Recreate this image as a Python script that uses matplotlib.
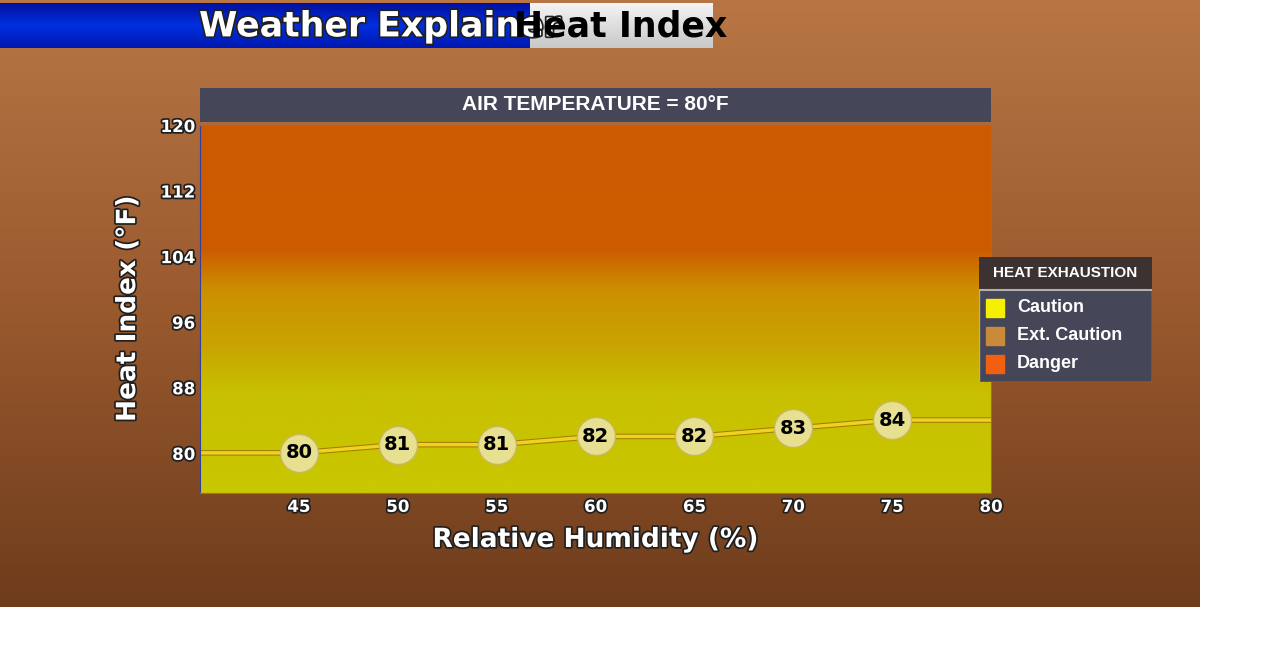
import matplotlib
matplotlib.use("Agg")
import matplotlib.pyplot as plt
import numpy as np
from matplotlib.colors import LinearSegmentedColormap
from matplotlib.patches import Rectangle
import matplotlib.patheffects as pe

humidity = [40, 45, 50, 55, 60, 65, 70, 75, 80]
heat_index = [80, 80, 81, 81, 82, 82, 83, 84, 84]
labeled = [45, 50, 55, 60, 65, 70, 75]
yticks = [80, 88, 96, 104, 112, 120]
xticks = [45, 50, 55, 60, 65, 70, 75, 80]
legend_items = [("Caution", "#f5f000"), ("Ext. Caution", "#c98a3a"), ("Danger", "#f06010")]

W, H = 1280, 672
fig = plt.figure(figsize=(12.8, 6.72), dpi=100)
fig.patch.set_facecolor("white")
outline = [pe.withStroke(linewidth=2.5, foreground="#202020")]
narrow = ["Liberation Sans Narrow", "DejaVu Sans"]

def fx(px): return px / W
def fy(py): return 1 - py / H

bg = fig.add_axes([0, fy(607), fx(1200), 607 / H])
bg.axis("off")
bgc = LinearSegmentedColormap.from_list("bg", ["#b87645", "#9a5a2e", "#6e3c1c"])
bg.imshow(np.linspace(0, 1, 256).reshape(-1, 1), cmap=bgc, aspect="auto", extent=[0, 1, 0, 1])
bg.set_xlim(0, 1); bg.set_ylim(0, 1)

tb = fig.add_axes([0, fy(48), fx(713), 45 / H]); tb.axis("off")
blue = LinearSegmentedColormap.from_list("bl", ["#0010a0", "#0030e0", "#0018b0"])
tb.imshow(np.linspace(0, 1, 64).reshape(-1, 1), cmap=blue, aspect="auto", extent=[0, 530, 0, 1])
grey = LinearSegmentedColormap.from_list("gr", ["#f4f4f4", "#c8c8c8"])
tb.imshow(np.linspace(0, 1, 64).reshape(-1, 1), cmap=grey, aspect="auto", extent=[530, 713, 0, 1])
tb.set_xlim(0, 713); tb.set_ylim(0, 1)
tb.text(380, 0.48, "Weather Explainer", color="white", fontsize=25, fontweight="bold", ha="center", va="center",
        family=narrow, path_effects=outline)
tb.text(621, 0.48, "Heat Index", color="black", fontsize=25, fontweight="bold", ha="center", va="center", family=narrow)

hb = fig.add_axes([fx(200), fy(122), fx(791), 34 / H]); hb.axis("off")
hb.add_patch(Rectangle((0, 0), 1, 1, color="#454658", transform=hb.transAxes))
hb.text(0.5, 0.5, "AIR TEMPERATURE = 80°F", color="white", fontsize=15, fontweight="bold", ha="center", va="center",
        transform=hb.transAxes, family=["Liberation Sans", "DejaVu Sans"])

ax = fig.add_axes([fx(200), fy(493), fx(791), 368 / H])
ymin, ymax = 75.1, 120
grad = LinearSegmentedColormap.from_list("hi", [(0, "#c8c800"), (0.27, "#c8c000"), (0.4, "#c9a400"), (0.55, "#cc9000"), (0.66, "#cc5c00"), (1, "#cc5a00")])
ax.imshow(np.linspace(0, 1, 256).reshape(-1, 1), cmap=grad, origin="lower", aspect="auto",
          extent=[40, 80, ymin, ymax], zorder=0)
ax.set_xlim(40, 80); ax.set_ylim(ymin, ymax)
ax.plot(humidity, heat_index, color="#f0d020", lw=2.5, zorder=2,
        path_effects=[pe.withStroke(linewidth=4, foreground="#a08000")])
for h, v in zip(humidity, heat_index):
    if h in labeled:
        ax.scatter([h], [v], s=750, color="#e6e090", edgecolor="#c8b860", zorder=3)
        ax.text(h, v, str(v), fontsize=14, fontweight="bold", ha="center", va="center", zorder=4)
ax.set_yticks(yticks); ax.set_xticks(xticks)
ax.tick_params(colors="white", labelsize=12, length=0)
for lab in ax.get_xticklabels() + ax.get_yticklabels():
    lab.set_fontweight("bold")
    lab.set_path_effects(outline)
for s in ax.spines.values():
    s.set_color("#c06020")
ax.spines["left"].set_color("#3040a0")
ax.set_xlabel("Relative Humidity (%)", color="white", fontsize=19, fontweight="bold", labelpad=8, path_effects=outline)
ax.set_ylabel("Heat Index (°F)", color="white", fontsize=19, fontweight="bold", labelpad=14, path_effects=outline)

lg = fig.add_axes([fx(979), fy(382), fx(173), 125 / H]); lg.axis("off")
lg.set_xlim(0, 173); lg.set_ylim(125, 0)
lg.add_patch(Rectangle((0, 0), 173, 125, facecolor="#454658", edgecolor="#b0b0b0", lw=1))
lg.add_patch(Rectangle((0, 0), 173, 33, facecolor="#3c3232"))
lg.plot([0, 173], [33, 33], color="#b0b0b0", lw=1.5)
lg.text(86, 16, "HEAT EXHAUSTION", color="white", fontsize=11, fontweight="bold", ha="center", va="center",
        family=["Liberation Sans", "DejaVu Sans"])
for i, (name, c) in enumerate(legend_items):
    yc = 51 + i * 28
    lg.add_patch(Rectangle((7, yc - 9), 18, 18, color=c))
    lg.text(38, yc, name, color="white", fontsize=13, fontweight="bold", va="center",
            family=["Liberation Sans", "DejaVu Sans"])

fig.savefig("out.png", dpi=100)
